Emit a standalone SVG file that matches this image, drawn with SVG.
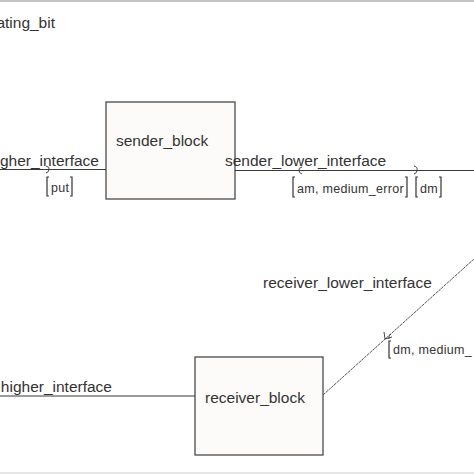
<svg xmlns="http://www.w3.org/2000/svg" width="474" height="474" viewBox="0 0 474 474">
<style>
.bg{fill:#ffffff}
.blk{fill:#fdfbf9;stroke:#4a4a4a;stroke-width:1.3}
.ln{stroke:#3a3a3a;stroke-width:1.2;fill:none}
.dg{stroke:#555;stroke-width:1;fill:none;stroke-dasharray:3 0.7}
.br{stroke:#333;stroke-width:1.2;fill:none}
.mk{stroke:#444;stroke-width:1;fill:none}
.t{font-family:"Liberation Sans",Arial,sans-serif;font-size:15.5px;fill:#333}
.s{font-family:"Liberation Sans",Arial,sans-serif;font-size:12.5px;fill:#333;letter-spacing:0.3px}
</style>
<rect class="bg" x="0" y="0" width="474" height="474"/>
<rect x="0" y="0" width="474" height="2" fill="#c4c4c4"/>
<rect x="0" y="472" width="474" height="2" fill="#e6e6e6"/>
<text class="t" x="55" y="28" text-anchor="end">ating_bit</text>
<g id="sender_block">
  <rect class="blk" x="106" y="102" width="129" height="97"/>
  <text class="t" x="116" y="146">sender_block</text>
</g>
<g id="receiver_block">
  <rect class="blk" x="195" y="357" width="128" height="98"/>
  <text class="t" x="205" y="403">receiver_block</text>
</g>
<g id="connectors">
  <g id="sender_higher_interface">
    <line class="ln" x1="0" y1="169.5" x2="106" y2="169.5"/>
    <text class="t" x="99" y="166" text-anchor="end">higher_interface</text>
    <path class="mk" d="M46,166 Q50,167 49,169.5 Q49,172 46,173"/>
    <path class="br" d="M49,177 L47,177 L47,196 L49,196 M70,177 L72,177 L72,196 L70,196"/>
    <text class="s" x="51" y="192">put</text>
  </g>
  <g id="sender_lower_interface">
    <line class="ln" x1="235" y1="170.5" x2="474" y2="170.5"/>
    <text class="t" x="225" y="166">sender_lower_interface</text>
    <path class="mk" d="M302,167 Q298,168 299,170.5 Q299,173 302,174"/>
    <path class="mk" d="M414,166 Q418,167 417,170.5 Q417,173 414,174"/>
    <path class="br" d="M295,177 L293,177 L293,197 L295,197 M405,177 L407,177 L407,197 L405,197"/>
    <text class="s" x="297" y="193">am, medium_error</text>
    <path class="br" d="M418,177 L416,177 L416,197 L418,197 M439,177 L441,177 L441,197 L439,197"/>
    <text class="s" x="420" y="193">dm</text>
  </g>
  <g id="receiver_higher_interface">
    <line class="ln" x1="0" y1="396" x2="195" y2="396"/>
    <text class="t" x="112" y="392" text-anchor="end">higher_interface</text>
  </g>
  <g id="receiver_lower_interface">
    <line class="dg" x1="323" y1="395" x2="474" y2="259"/>
    <text class="t" x="263" y="288">receiver_lower_interface</text>
    <path class="mk" d="M384,332 L385,339 L392,337 M389,339 Q388,335 391,334"/>
    <path class="br" d="M391,341 L389,341 L389,358 L391,358"/>
    <text class="s" x="393" y="354">dm, medium_</text>
  </g>
</g>
</svg>
